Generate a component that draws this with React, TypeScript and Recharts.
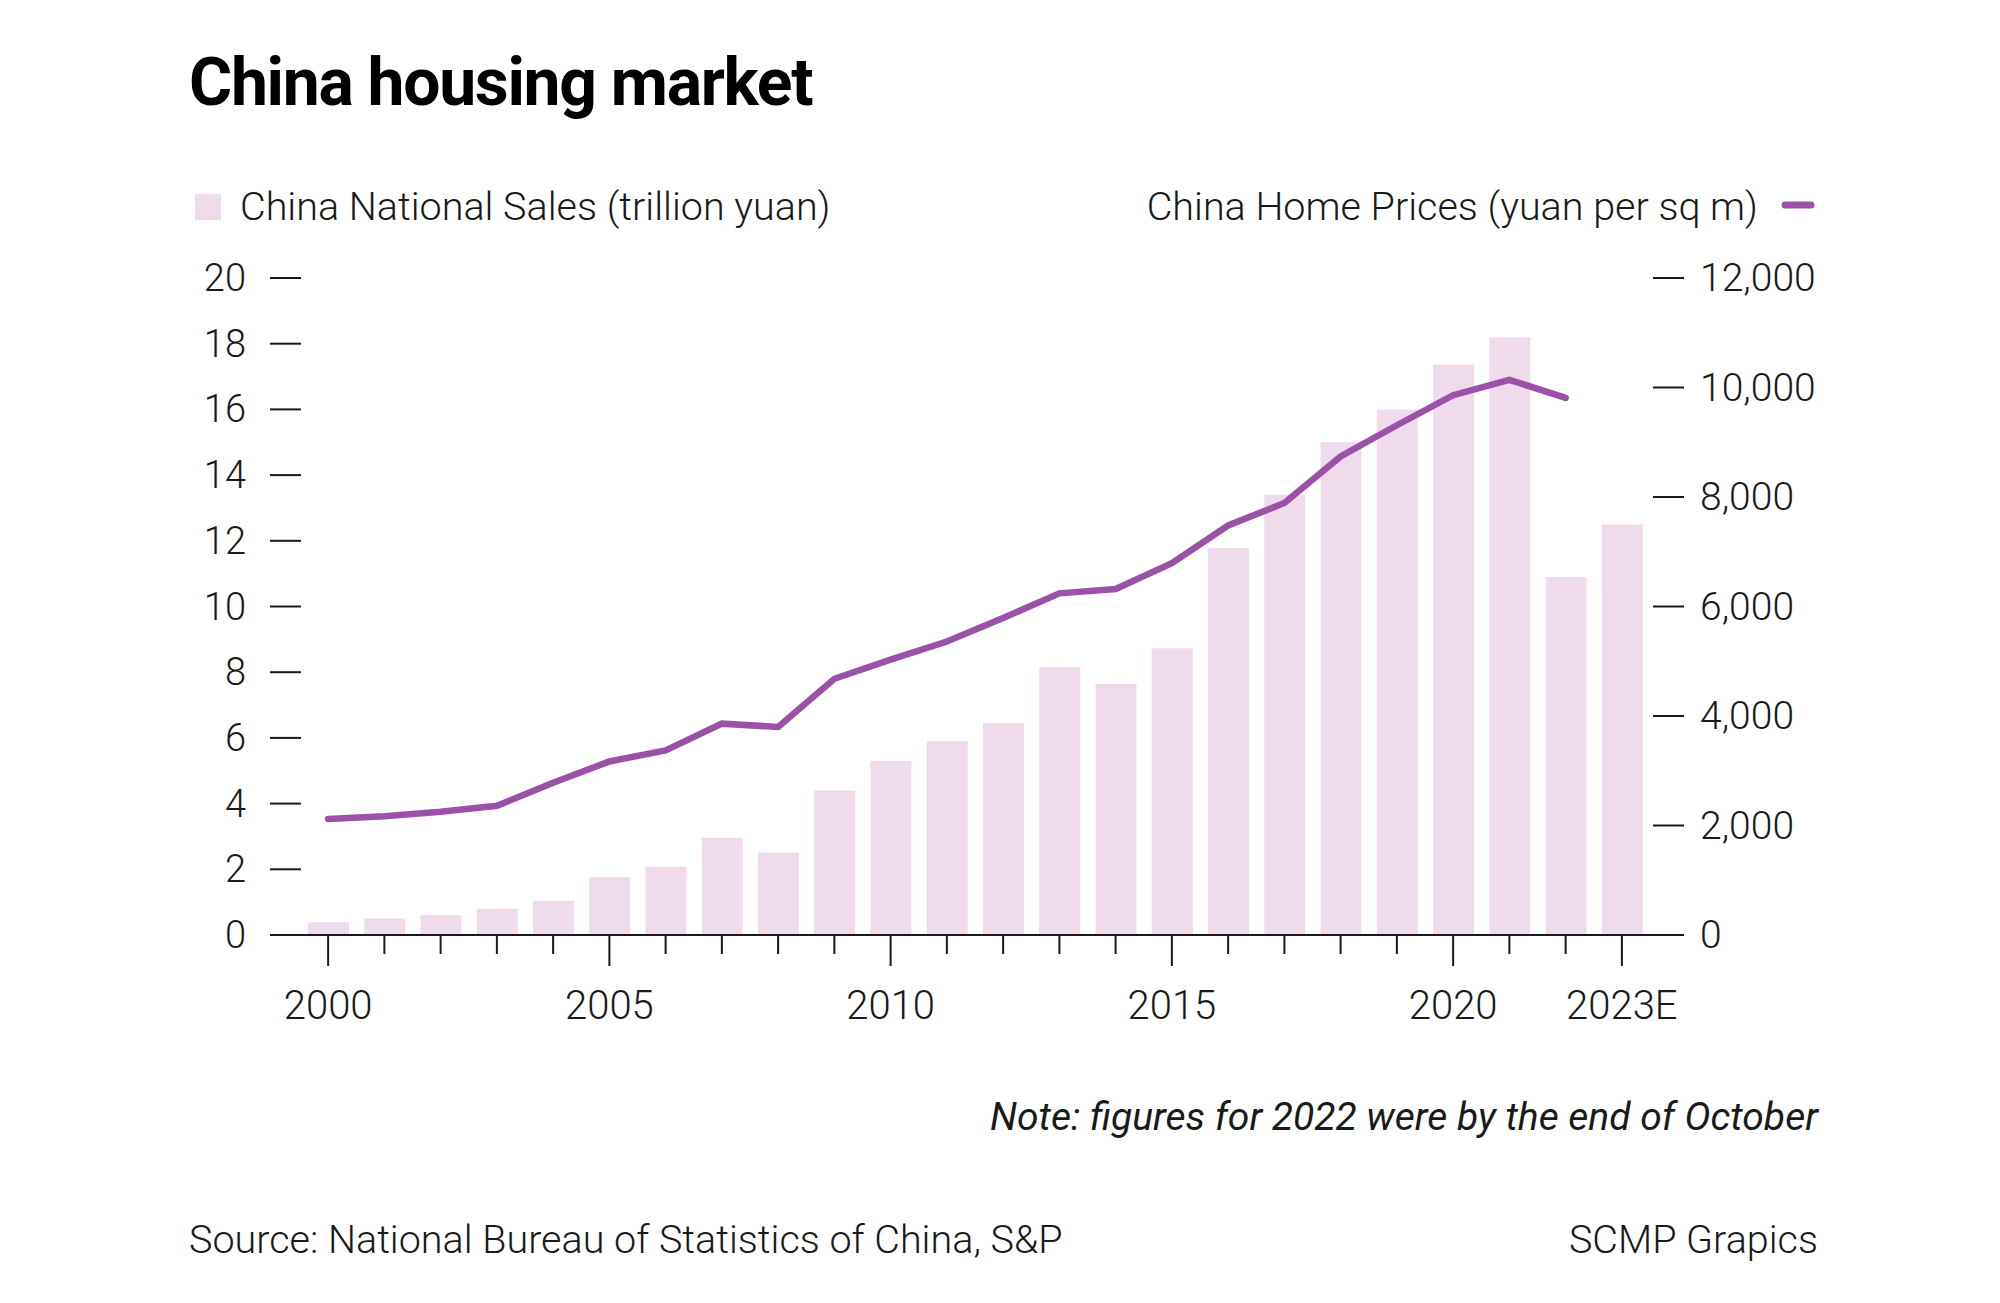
import React from 'react';
import { ComposedChart, Bar, Line, XAxis, YAxis } from 'recharts';

// categories and values
const years = [
  '2000', '2001', '2002', '2003', '2004', '2005', '2006', '2007', '2008', '2009', '2010', '2011',
  '2012', '2013', '2014', '2015', '2016', '2017', '2018', '2019', '2020', '2021', '2022', '2023E',
];
const salesTrillion = [
  0.39, 0.5, 0.6, 0.8, 1.04, 1.76, 2.08, 2.96, 2.51, 4.4, 5.3, 5.9,
  6.45, 8.15, 7.65, 8.73, 11.77, 13.4, 15.0, 16.0, 17.36, 18.2, 10.9, 12.5,
];
const homePrices: (number | null)[] = [
  2120, 2170, 2250, 2360, 2780, 3170, 3370, 3860, 3800, 4680, 5030, 5360,
  5790, 6240, 6320, 6790, 7480, 7890, 8740, 9310, 9860, 10140, 9810, null,
];
const labelledYears = ['2000', '2005', '2010', '2015', '2020', '2023E'];
const salesTicks = [0, 2, 4, 6, 8, 10, 12, 14, 16, 18, 20];
const priceTicks = [0, 2000, 4000, 6000, 8000, 10000, 12000];

const data = years.map((year, i) => ({
  year,
  sales: salesTrillion[i],
  price: homePrices[i],
}));

const INK = '#1a1a1a';
const BAR = '#f0dbec';
const LINE = '#9b51a8';
const FONT = 'Roboto, sans-serif';

const SalesTick = (props: any) => {
  const { x, y, payload } = props;
  return (
    <g>
      <line x1={x} x2={x + 31} y1={y} y2={y} stroke={INK} strokeWidth={2} />
      <text x={x - 24} y={y + 13} textAnchor="end" fontSize={38} fontWeight={300} fontFamily={FONT} fill={INK}>
        {payload.value}
      </text>
    </g>
  );
};

const PriceTick = (props: any) => {
  const { x, y, payload } = props;
  return (
    <g>
      <line x1={x - 31} x2={x} y1={y} y2={y} stroke={INK} strokeWidth={2} />
      <text x={x + 16} y={y + 13} textAnchor="start" fontSize={39} fontWeight={300} fontFamily={FONT} fill={INK}>
        {Number(payload.value).toLocaleString('en-US')}
      </text>
    </g>
  );
};

const YearTick = (props: any) => {
  const { x, y, payload } = props;
  const major = labelledYears.includes(payload.value);
  return (
    <g>
      <line x1={x} x2={x} y1={y} y2={y + (major ? 31 : 19)} stroke={INK} strokeWidth={2} />
      {major && (
        <text x={x} y={y + 84} textAnchor="middle" fontSize={40} fontWeight={300} fontFamily={FONT} fill={INK}>
          {payload.value}
        </text>
      )}
    </g>
  );
};

export default function App() {
  return (
    <div style={{ position: 'absolute', left: 0, top: 0, width: 2000, height: 1303, background: '#fff' }}>
      <ComposedChart
        width={2000}
        height={1303}
        data={data}
        margin={{ top: 278, right: 116, bottom: 268, left: 170 }}
        barSize={41}
      >
        <XAxis
          dataKey="year"
          interval={0}
          padding={{ left: 30, right: 34 }}
          tickSize={0}
          tickMargin={0}
          height={100}
          axisLine={{ stroke: INK, strokeWidth: 2 }}
          tickLine={false}
          tick={<YearTick />}
        />
        <YAxis
          yAxisId="sales"
          orientation="left"
          width={100}
          domain={[0, 20]}
          ticks={salesTicks}
          interval={0}
          axisLine={false}
          tickLine={false}
          tickSize={0}
          tickMargin={0}
          tick={<SalesTick />}
        />
        <YAxis
          yAxisId="price"
          orientation="right"
          width={200}
          domain={[0, 12000]}
          ticks={priceTicks}
          interval={0}
          axisLine={false}
          tickLine={false}
          tickSize={0}
          tickMargin={0}
          tick={<PriceTick />}
        />
        <Bar yAxisId="sales" dataKey="sales" fill={BAR} isAnimationActive={false} />
        <Line
          yAxisId="price"
          dataKey="price"
          stroke={LINE}
          strokeWidth={6.5}
          dot={false}
          activeDot={false}
          strokeLinecap="round"
          isAnimationActive={false}
        />
      </ComposedChart>

      <svg
        width={2000}
        height={1303}
        style={{ position: 'absolute', left: 0, top: 0, pointerEvents: 'none' }}
        fontFamily={FONT}
      >
        <text x={189} y={105} fontSize={66} fontWeight={700} letterSpacing={-1.3} fill="#000">
          China housing market
        </text>

        <rect x={195} y={194} width={26} height={26} fill={BAR} />
        <text x={240} y={220} fontSize={39.5} fontWeight={300} fill={INK}>
          China National Sales (trillion yuan)
        </text>

        <text x={1758} y={220} fontSize={39.5} fontWeight={300} textAnchor="end" fill={INK}>
          China Home Prices (yuan per sq m)
        </text>
        <line x1={1785} x2={1811} y1={205} y2={205} stroke={LINE} strokeWidth={7} strokeLinecap="round" />

        <text x={1818} y={1130} fontSize={39} fontWeight={400} fontStyle="italic" textAnchor="end" fill={INK}>
          Note: figures for 2022 were by the end of October
        </text>

        <text x={189} y={1253} fontSize={39.5} fontWeight={300} fill={INK}>
          Source: National Bureau of Statistics of China, S&amp;P
        </text>
        <text x={1818} y={1253} fontSize={39.5} fontWeight={300} textAnchor="end" fill={INK}>
          SCMP Grapics
        </text>
      </svg>
    </div>
  );
}
